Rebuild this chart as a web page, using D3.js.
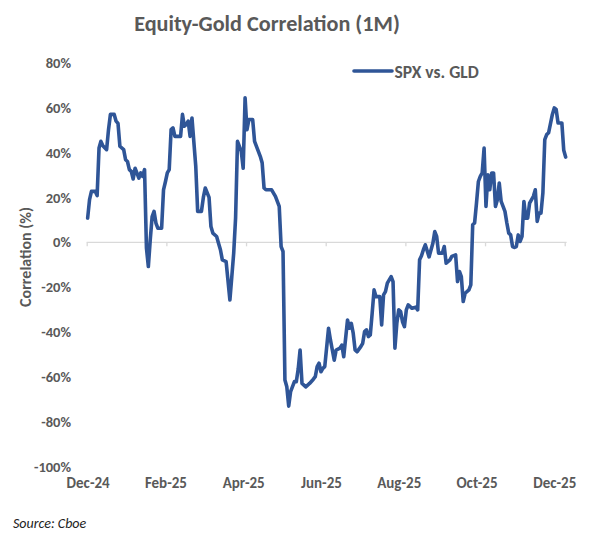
<!DOCTYPE html>
<html>
<head>
<meta charset="utf-8">
<script src="https://cdn.jsdelivr.net/npm/d3@7"></script>
<style>
  html, body { margin: 0; padding: 0; background: #fff; }
  svg { display: block; }
  text { font-family: Carlito, Lato, "Open Sans", sans-serif; }
</style>
</head>
<body>
<svg id="chart" width="593" height="541"></svg>
<script>
// ---- data ----
const titleText = "Equity-Gold Correlation (1M)";
const seriesName = "SPX vs. GLD";
const yTitle = "Correlation (%)";
const sourceText = "Source: Cboe";
const nDays = 253; // trading days on the category axis
// trading-day index of each vertex of the series
const dayIdx = [0,1,2,4,5,6,7,8,10,11,12,14,15,16,17,19,20,21,22,23,24,25,27,28,29,30,31,32,33,34,35,36,37,39,40,41,42,43,44,45,46,49,50,51,52,53,54,55,57,58,60,61,62,64,65,66,68,69,70,71,73,75,76,77,78,79,81,82,83,84,85,87,88,89,91,92,93,94,97,99,101,102,103,104,105,106,107,109,110,111,112,113,115,117,119,120,121,122,123,124,125,127,128,129,130,131,133,134,135,137,138,139,140,141,142,144,145,146,147,148,149,150,151,152,154,155,156,157,158,160,161,162,163,164,165,166,167,168,169,171,173,174,175,176,177,178,180,182,183,184,185,187,188,189,191,192,194,195,196,197,198,199,201,202,203,204,205,206,207,208,209,210,211,212,213,214,215,216,217,218,219,220,221,222,223,224,225,226,227,228,229,230,231,232,233,235,236,237,238,239,240,241,242,243,245,246,247,248,250,251,252];
// SPX vs. GLD 1M correlation (%)
const corr = [10.8,19,22.7,22.7,20.8,42,45,43,41.3,50.2,57,57,54,53,42.8,41.3,36.8,36,32.4,31.6,28.2,33,28.6,30.9,29.4,32.4,-2.6,-10.8,1.1,11.5,13.8,8.6,6.3,6.3,23.4,27,30.9,32.4,50.2,51,47.2,47.2,57,51.7,52.5,54,47.2,55.4,33.8,13.8,13.8,20,24.2,20,7,4.1,2.6,-0.4,-3.3,-7.8,-8.6,-25.7,-15.3,-4.8,11,45,40.5,33,64.4,50.2,54.7,54.7,45,42.8,38.3,35.4,24.2,23.4,23.4,20.5,16,-1.9,-4.1,-61.4,-64.4,-73,-66.5,-62.1,-62.1,-56.5,-48,-62.9,-64.4,-62.9,-61,-59.9,-55.4,-53.9,-57.7,-56.2,-55.4,-38.3,-43.5,-48,-52.5,-48,-47.2,-45.8,-51,-34.6,-38.3,-36.1,-40.5,-48,-48.8,-46.5,-45,-39.8,-39,-42,-41.3,-31.6,-21.2,-24.2,-24.2,-36.8,-23.4,-22,-18.2,-15.3,-17.5,-47.2,-36.1,-30.1,-30.9,-35.4,-37.6,-30.1,-27.9,-29.4,-28.9,-30.1,-7.8,-6,-3.3,-1.1,-6.5,-0.4,4.8,2.6,-4.8,-4.8,-1.9,-9.3,-7.8,-6.3,-5.6,-17.5,-13,-15.3,-26.4,-22.7,-21.2,-19,7.8,8.6,17.5,27.1,29.4,30.9,42,16,30.1,23.4,30.9,30.9,16,19,26.4,18.2,16,13.8,8.6,4.1,3.3,-1.9,-2.3,-1.9,3.3,0.4,2.6,18.2,10.8,10.8,17.5,20.5,23.4,9.3,13,13,22,45.8,48,48.8,57,59.9,59.2,53.2,53.2,41,38];
const xTickIdx = [0,42,84,126,168,210,252];           // tick-mark interval
const xLabelIdx = [0,41,82,123,164,205,246];          // label interval
const xLabels = ["Dec-24","Feb-25","Apr-25","Jun-25","Aug-25","Oct-25","Dec-25"];
const yTicks = [80,60,40,20,0,-20,-40,-60,-80,-100];

// ---- chart ----
const svg = d3.select("#chart");
const mLeft = 86.7, mRight = 566.6, mTop = 62.8, mBottom = 466.7;
const lineColor = "#2F5597", textColor = "#595959";

const x = d3.scaleLinear().domain([0, nDays]).range([mLeft, mRight]);
const y = d3.scaleLinear().domain([-100, 80]).range([mBottom, mTop]);

// title
svg.append("text").attr("x", 267).attr("y", 31)
  .attr("text-anchor", "middle").attr("font-size", 22.2).attr("font-weight", "bold")
  .attr("fill", textColor).text(titleText);

// y axis labels
const yAxis = d3.axisLeft(y).tickValues(yTicks).tickSize(0).tickPadding(0)
  .tickFormat(d => d + "%");
const gy = svg.append("g").attr("transform", `translate(${71},0)`).call(yAxis);
gy.select(".domain").remove();
gy.selectAll("text").attr("font-size", 14.5).attr("font-weight", "bold")
  .attr("fill", textColor).attr("font-family", null);

// y title
svg.append("text").attr("transform", "translate(31,257) rotate(-90)")
  .attr("text-anchor", "middle").attr("font-size", 16).attr("font-weight", "bold")
  .attr("fill", textColor).text(yTitle);

// x axis line at zero with tick marks
const xAxisTicks = d3.axisBottom(x).tickValues(xTickIdx).tickSize(4).tickFormat("");
const gx = svg.append("g").attr("transform", `translate(0,${y(0)})`).call(xAxisTicks);
gx.select(".domain").attr("stroke", "#d9d9d9").attr("stroke-width", 1.3)
  .attr("d", `M${mLeft},0H${mRight}`);
gx.selectAll(".tick line").attr("stroke", "#d9d9d9").attr("stroke-width", 1.3);

// x labels (at the bottom)
const xLabelAxis = d3.axisBottom(x).tickValues(xLabelIdx.map(d => d + 0.5))
  .tickSize(0).tickPadding(0)
  .tickFormat((d, i) => xLabels[i]);
const gl = svg.append("g").attr("transform", `translate(0,477.5)`).call(xLabelAxis);
gl.select(".domain").remove();
gl.selectAll("text").attr("font-size", 15).attr("font-weight", "bold")
  .attr("fill", textColor).attr("font-family", null);

// series
const pts = dayIdx.map((d, i) => [d, corr[i]]);
const line = d3.line().x(d => x(d[0] + 0.5)).y(d => y(d[1]));
svg.append("path").datum(pts).attr("d", line)
  .attr("fill", "none").attr("stroke", lineColor).attr("stroke-width", 3.6)
  .attr("stroke-linejoin", "round").attr("stroke-linecap", "round");

// legend
svg.append("line").attr("x1", 354).attr("x2", 392).attr("y1", 71).attr("y2", 71)
  .attr("stroke", lineColor).attr("stroke-width", 3.6).attr("stroke-linecap", "round");
svg.append("text").attr("x", 394.5).attr("y", 77.8).attr("font-size", 17.5)
  .attr("font-weight", "bold").attr("fill", textColor).text(seriesName);

// source
svg.append("text").attr("x", 13).attr("y", 527.5).attr("font-size", 14)
  .attr("font-style", "italic").attr("fill", "#222").text(sourceText);
</script>
</body>
</html>
